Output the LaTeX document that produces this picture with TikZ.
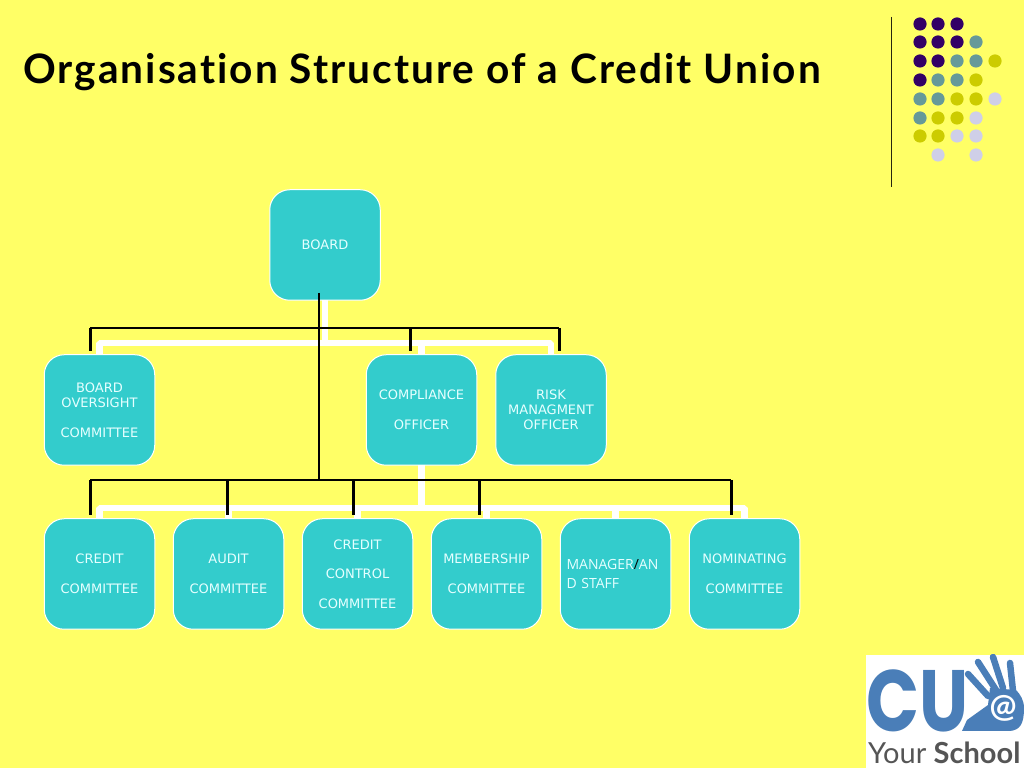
\documentclass[tikz,border=0pt]{standalone}
\usepackage{fontspec}
\setmainfont{DejaVu Sans}
\newfontfamily\titlefont[LetterSpace=5,Ligatures=NoCommon]{Lato Bold}
\newfontfamily\logofont{Lato}
\newfontfamily\logoboldfont{Lato Bold}
\newfontfamily\logoheavyfont[BoldFont={Poppins Bold}]{Poppins}
\newfontfamily\staffont{Open Sans}
\definecolor{slidebg}{HTML}{FFFF66}
\definecolor{boxfill}{HTML}{33CCCC}
\definecolor{boxtext}{HTML}{E6FFFF}
\definecolor{dotp}{HTML}{330066}
\definecolor{dott}{HTML}{669999}
\definecolor{doto}{HTML}{CCCC00}
\definecolor{dotl}{HTML}{CFCFE8}
\definecolor{logoblue}{HTML}{4A7EB8}
\definecolor{logogray}{HTML}{555555}
\tikzset{
  orgbox/.style={draw=white,line width=1bp,fill=boxfill,rounded corners=20bp,minimum width=110.5bp,minimum height=110.5bp,inner sep=0pt,outer sep=0pt,align=center,text=boxtext,font=\fontsize{13bp}{15bp}\selectfont},
  wirewhite/.style={white,line width=6.5bp},
  wirebus/.style={black,line width=2bp},
  wiredrop/.style={black,line width=3bp},
  fingerline/.style={logoblue,line width=6.5bp,line cap=round},
}
\begin{document}
\begin{tikzpicture}[>=latex,line join=bevel,]
\useasboundingbox (0bp,0bp) rectangle (1024bp,768bp);
\fill [slidebg] (0bp,0bp) rectangle (1024bp,768bp);
%%
\node (node_title) at (23bp,696bp) [anchor=west,inner sep=0pt,font=\titlefont\fontsize{40.6bp}{44bp}\selectfont] {Organisation Structure of a Credit Union};
\draw [black!85!slidebg,line width=1.2bp] (891.5bp,751bp) -- (891.5bp,581bp);
%
\foreach \dotcolor/\dotx/\doty in {dotp/920/744,dotp/938/744,dotp/957/744,
  dotp/920/726,dotp/938/726,dotp/957/726,dott/976/726,
  dotp/920/707,dotp/938/707,dott/957/707,dott/976/707,doto/995/707,
  dotp/920/688,dott/938/688,dott/957/688,doto/976/688,
  dott/920/669,dott/938/669,doto/957/669,doto/976/669,dotl/995/669,
  dott/920/650,doto/938/650,doto/957/650,dotl/976/650,
  doto/920/632,doto/938/632,dotl/957/632,dotl/976/632,
  dotl/938/613,dotl/976/613}
  \fill [\dotcolor] (\dotx bp,\doty bp) circle (6.6bp);
%
\coordinate (bus_top) at (325bp,425bp);
\coordinate (bus_low) at (421.5bp,260bp);
%
\node (node_board) at (325bp,523bp) [orgbox] {BOARD};
\node (node_oversight) at (99.5bp,358bp) [orgbox] {BOARD\\OVERSIGHT\\[15bp]COMMITTEE};
\node (node_compliance) at (421.5bp,358bp) [orgbox] {COMPLIANCE\\[14.5bp]OFFICER};
\node (node_risk) at (551bp,358bp) [orgbox] {RISK\\MANAGMENT\\OFFICER};
\node (node_credit) at (99.5bp,194bp) [orgbox] {CREDIT\\[14.5bp]COMMITTEE};
\node (node_audit) at (228.5bp,194bp) [orgbox] {AUDIT\\[14.5bp]COMMITTEE};
\node (node_control) at (357.5bp,194bp) [orgbox] {CREDIT\\[14.5bp]CONTROL\\[14.5bp]COMMITTEE};
\node (node_member) at (486.5bp,194bp) [orgbox] {MEMBERSHIP\\[14.5bp]COMMITTEE};
\node (node_manager) at (615.5bp,194bp) [orgbox,text width=98bp,align=left,font=\staffont\fontsize{14bp}{19bp}\selectfont] {MANAGER{\color{black}/}AN\\D STAFF};
\node (node_nominate) at (744.5bp,194bp) [orgbox] {NOMINATING\\[14.5bp]COMMITTEE};
%
\draw [wirewhite] (node_board.south) -- (node_board.south |- bus_top);
\draw [wirewhite] (node_oversight.north) |- (node_risk.north |- bus_top) -- (node_risk.north);
\draw [wirewhite] (node_compliance.north) -- (node_compliance.north |- bus_top);
\draw [wirewhite] (node_compliance.south) -- (node_compliance.south |- bus_low);
\draw [wirewhite] (node_credit.north) |- (node_nominate.north |- bus_low) -- (node_nominate.north);
\draw [wirewhite] (node_audit.north) -- (node_audit.north |- bus_low);
\draw [wirewhite] (node_control.north) -- (node_control.north |- bus_low);
\draw [wirewhite] (node_member.north) -- (node_member.north |- bus_low);
\draw [wirewhite] (node_manager.north) -- (node_manager.north |- bus_low);
%
\coordinate (drop_0) at (319bp,475bp);
\coordinate (drop_1) at (319bp,288bp);
\coordinate (drop_2) at (90bp,440bp);
\coordinate (drop_3) at (559bp,440bp);
\coordinate (drop_4) at (90bp,288bp);
\coordinate (drop_5) at (731bp,288bp);
\draw [wirebus] (drop_0) -- (drop_1);
\draw [wirebus] (drop_2) -- (drop_3);
\draw [wirebus] (drop_4) -- (drop_5);
\coordinate (tip_a) at (90bp,417bp);
\coordinate (tip_b) at (410bp,417bp);
\coordinate (tip_c) at (559bp,417bp);
\draw [wiredrop] (drop_2) -- (tip_a);
\draw [wiredrop] (tip_b |- drop_2) -- (tip_b);
\draw [wiredrop] (drop_3) -- (tip_c);
\foreach \dropx in {90,227,353,479,731}
  \draw [wiredrop] (\dropx bp,288bp) -- (\dropx bp,253bp);
%
\fill [white] (866bp,0bp) rectangle (1024bp,113bp);
\node (node_logo) at (917.5bp,37bp) [anchor=base,inner sep=0pt,xscale=.8,text height=60bp,text depth=0pt,text=logoblue,font=\logoheavyfont\bfseries\fontsize{87bp}{87bp}\selectfont] {CU};
\begin{scope}
\clip (866bp,0bp) rectangle (1024bp,113bp);
\fill [white] (967bp,98bp) -- (990bp,64bp) -- (967bp,48bp) -- cycle;
\draw [fingerline] (968bp,94bp) -- (988bp,72bp);
\draw [fingerline] (978bp,106bp) -- (996bp,78bp);
\draw [fingerline] (993bp,111bp) -- (1003bp,80bp);
\draw [fingerline] (1010bp,105bp) -- (1013bp,77bp);
\fill [logoblue] (962bp,37bp) -- (1010bp,37bp) .. controls (1020bp,38bp) and (1024bp,44bp) .. (1024bp,60bp) .. controls (1024bp,68bp) and (1020bp,74bp) .. (1016bp,78bp) -- (990bp,80bp) -- (988bp,63bp) -- (967bp,48bp) -- cycle;
\end{scope}
\node (node_at) at (1003bp,60bp) [inner sep=0pt,text=white,font=\logoboldfont\fontsize{32bp}{32bp}\selectfont] {@};
\node (node_school) at (868bp,5bp) [anchor=base west,inner sep=0pt,text=logogray,font=\logofont\fontsize{29bp}{29bp}\selectfont] {Your {\logoboldfont School}};
%
\end{tikzpicture}
\end{document}
